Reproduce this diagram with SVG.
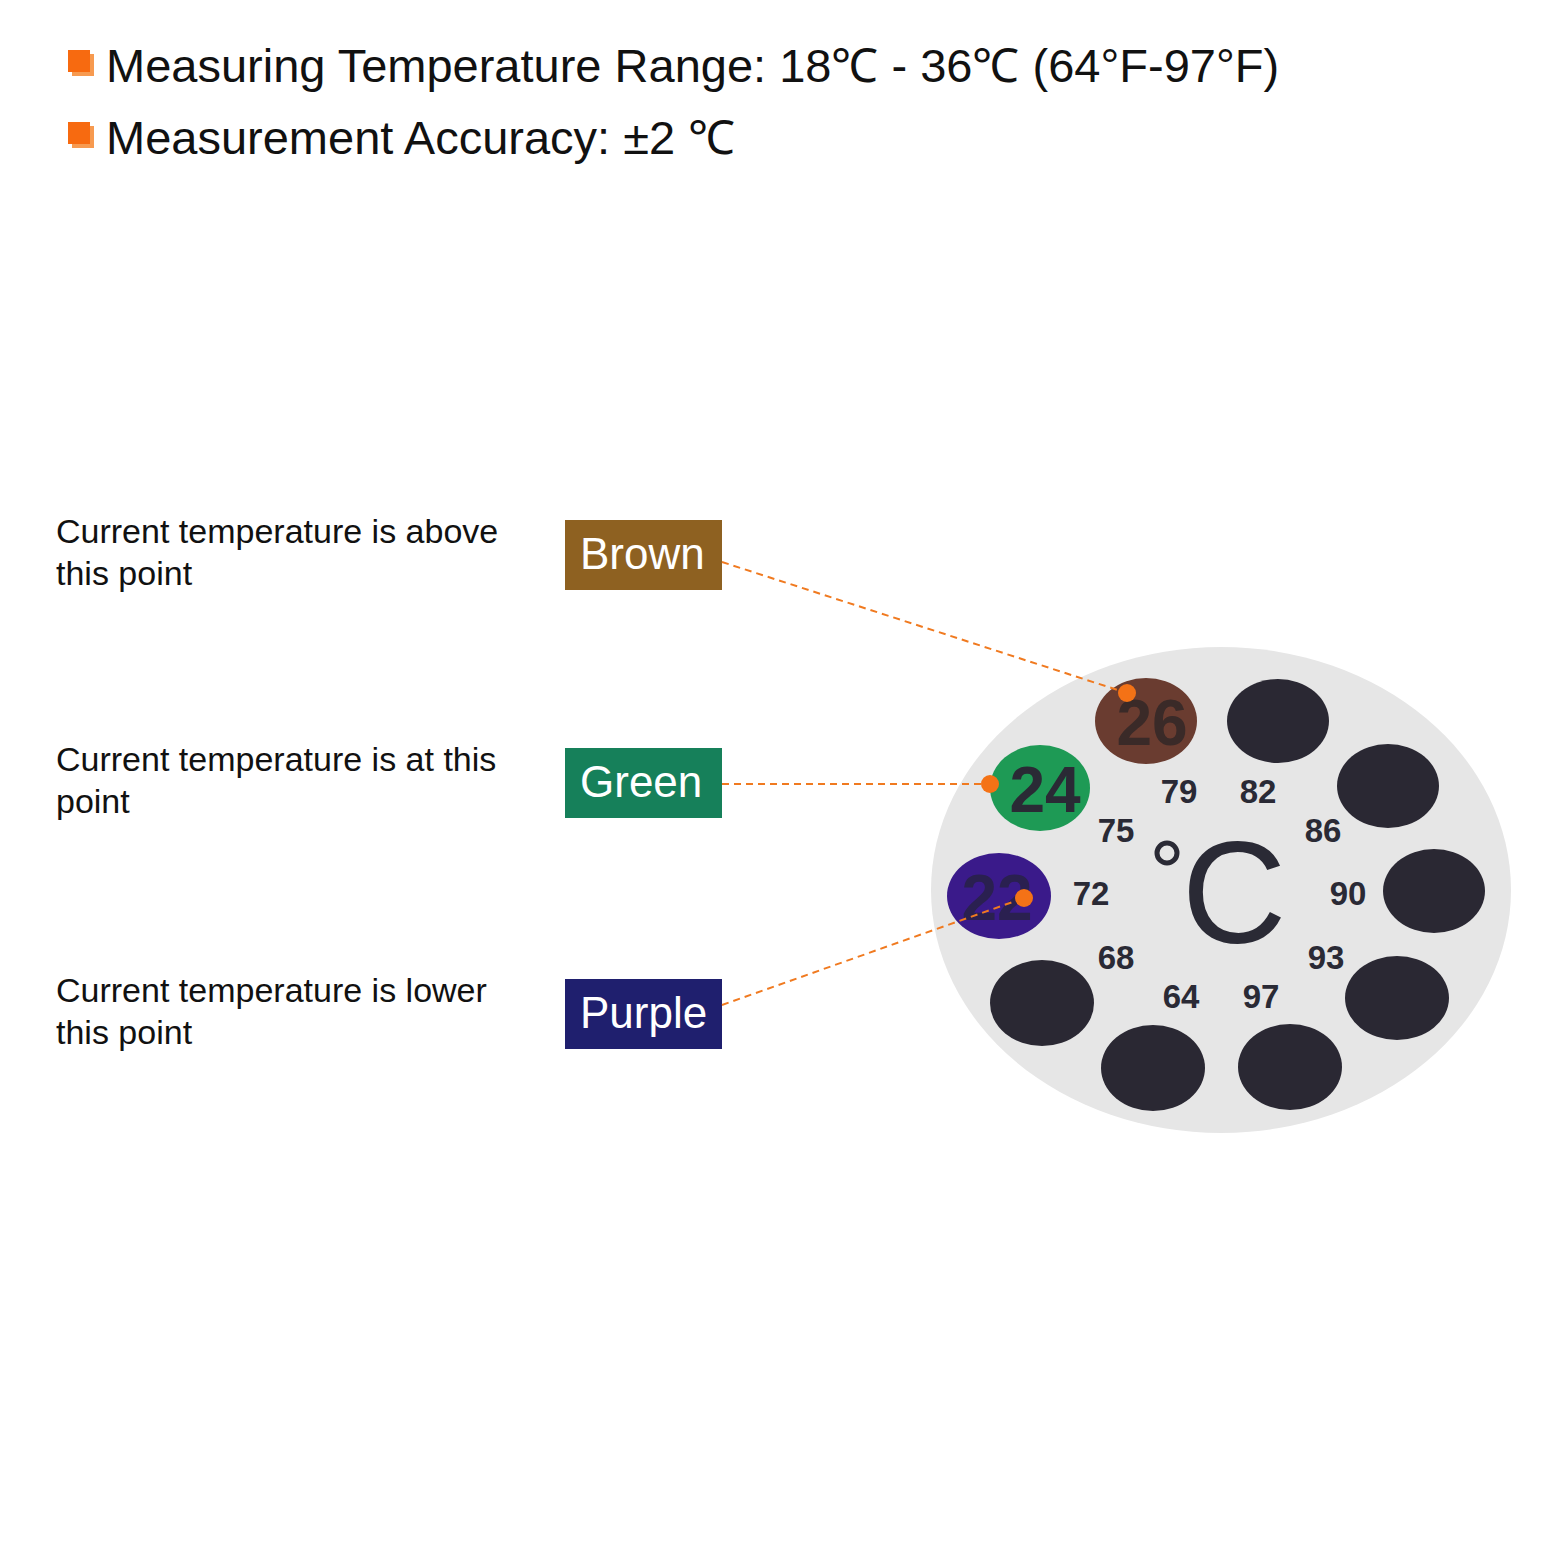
<svg xmlns="http://www.w3.org/2000/svg" width="1568" height="1568" viewBox="0 0 1568 1568">
<style>
.t{font-family:"Liberation Sans",Arial,sans-serif;fill:#111}
.h{font-size:47px}
.d{font-size:34px}
.b{font-size:44px;fill:#fff}
.n{font-family:"Liberation Sans",Arial,sans-serif;font-weight:bold;font-size:33px;fill:#2a2a35;text-anchor:middle}
.dot{fill:#2a2833}
.c{stroke:#f07a20;stroke-width:2;stroke-dasharray:7 5;fill:none}
.p{fill:#f47216}
</style>
<rect width="1568" height="1568" fill="#fff"/>
<g id="header">
<rect x="72" y="54" width="22" height="22" fill="#f79a50"/><rect x="68" y="50" width="22" height="22" fill="#f76a10"/>
<text class="t h" x="106" y="82">Measuring Temperature Range: 18℃ - 36℃ (64°F-97°F)</text>
<rect x="72" y="126" width="22" height="22" fill="#f79a50"/><rect x="68" y="122" width="22" height="22" fill="#f76a10"/>
<text class="t h" x="106" y="154">Measurement Accuracy: ±2 ℃</text>
</g>
<g id="brown"><text class="t d" x="56" y="543">Current temperature is above</text><text class="t d" x="56" y="585">this point</text>
<rect x="565" y="520" width="157" height="70" fill="#8e6121"/><text class="t b" x="580" y="569">Brown</text></g>
<g id="green"><text class="t d" x="56" y="771">Current temperature is at this</text><text class="t d" x="56" y="813">point</text>
<rect x="565" y="748" width="157" height="70" fill="#16805a"/><text class="t b" x="580" y="797">Green</text></g>
<g id="purple"><text class="t d" x="56" y="1002">Current temperature is lower</text><text class="t d" x="56" y="1044">this point</text>
<rect x="565" y="979" width="157" height="70" fill="#1f1f6e"/><text class="t b" x="580" y="1028">Purple</text></g>
<g id="disc">
<ellipse cx="1221" cy="890" rx="290" ry="243" fill="#e6e6e6"/>
<ellipse cx="1146" cy="721" rx="51" ry="43" fill="#6a3c30"/>
<text class="n" x="1152" y="745" style="font-size:64px;fill:#3a2a28">26</text>
<ellipse cx="1040" cy="788" rx="50" ry="43" fill="#1e9a55"/>
<text class="n" x="1045" y="812" style="font-size:64px">24</text>
<ellipse cx="999" cy="896" rx="52" ry="43" fill="#3a1a8a"/>
<text class="n" x="997" y="920" style="font-size:64px;fill:#2a2050">22</text>
<ellipse class="dot" cx="1278" cy="721" rx="51" ry="42"/>
<ellipse class="dot" cx="1388" cy="786" rx="51" ry="42"/>
<ellipse class="dot" cx="1434" cy="891" rx="51" ry="42"/>
<ellipse class="dot" cx="1397" cy="998" rx="52" ry="42"/>
<ellipse class="dot" cx="1290" cy="1067" rx="52" ry="43"/>
<ellipse class="dot" cx="1153" cy="1068" rx="52" ry="43"/>
<ellipse class="dot" cx="1042" cy="1003" rx="52" ry="43"/>
<text class="n" x="1179" y="803">79</text><text class="n" x="1258" y="803">82</text>
<text class="n" x="1116" y="842">75</text><text class="n" x="1323" y="842">86</text>
<text class="n" x="1091" y="905">72</text><text class="n" x="1348" y="905">90</text>
<text class="n" x="1116" y="969">68</text><text class="n" x="1326" y="969">93</text>
<text class="n" x="1181" y="1008">64</text><text class="n" x="1261" y="1008">97</text>
<circle cx="1167" cy="853" r="10" fill="none" stroke="#2a2a35" stroke-width="5"/>
<text x="1234" y="943" style="font-family:'Liberation Sans',Arial,sans-serif;font-size:145px;fill:#2a2a35" text-anchor="middle">C</text>
</g>
<g id="connectors">
<line class="c" x1="722" y1="562" x2="1127" y2="693"/>
<line class="c" x1="722" y1="784" x2="990" y2="784"/>
<line class="c" x1="722" y1="1005" x2="1024" y2="898"/>
<circle class="p" cx="1127" cy="693" r="9"/><circle class="p" cx="990" cy="784" r="9"/><circle class="p" cx="1024" cy="898" r="9"/>
</g>
</svg>
